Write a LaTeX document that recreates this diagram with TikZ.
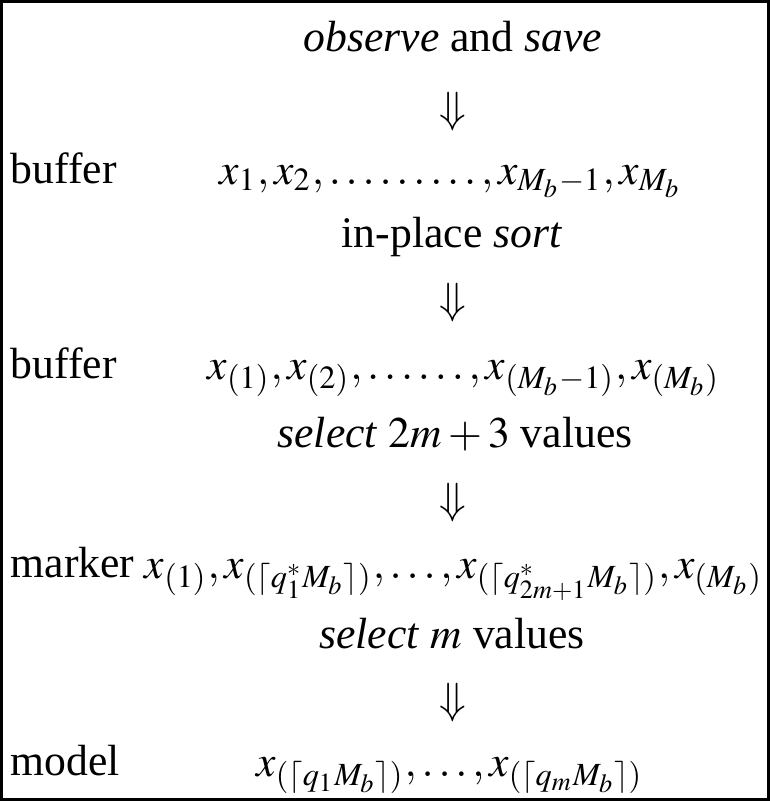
\documentclass[tikz,border=0pt]{standalone}
\usepackage{mathptmx}
\usepackage{fontspec}
\setmainfont{Liberation Serif}
\begin{document}
\begin{tikzpicture}[x=0.229pt,y=-0.229pt,
  txt/.style={inner sep=0pt,anchor=base},
  lab/.style={inner sep=0pt,anchor=base west},
  arr/.style={inner sep=0pt,anchor=center}]
\useasboundingbox (0,0) rectangle (770,801);
\draw[line width=0.69pt] (1.5,1.5) rectangle (768.5,799.5);
\node[txt] (obs) at (453,51) {\textit{observe} and \textit{save}};
\node[arr] (a1) at (453,112) {$\Downarrow$};
\node[lab] (lab1) at (10,183) {buffer};
\node[txt] (m1) at (451,184) {$x_1,x_2,\ldots\ldots\ldots,x_{M_b-1},x_{M_b}$};
\node[txt] (t1) at (452,247) {in-place \textit{sort}};
\node[arr] (a2) at (453,303) {$\Downarrow$};
\node[lab] (lab2) at (10,378) {buffer};
\node[txt] (m2) at (464,379) {$x_{(1)},x_{(2)},\ldots\ldots,x_{(M_b-1)},x_{(M_b)}$};
\node[txt] (t2) at (455,447) {\textit{select} $2m+3$ values};
\node[arr] (a3) at (453,503) {$\Downarrow$};
\node[lab] (lab3) at (10,577) {marker};
\node[txt] (m3) at (454,578) {$x_{(1)},x_{(\lceil q_1^*M_b\rceil)},\ldots,x_{(\lceil q_{2m+1}^*M_b\rceil)},x_{(M_b)}$};
\node[txt] (t3) at (452,648) {\textit{select} $m$ values};
\node[arr] (a4) at (453,703) {$\Downarrow$};
\node[lab] (lab4) at (10,775) {model};
\node[txt] (m4) at (450,776) {$x_{(\lceil q_1M_b\rceil)},\ldots,x_{(\lceil q_mM_b\rceil)}$};
\end{tikzpicture}
\end{document}
